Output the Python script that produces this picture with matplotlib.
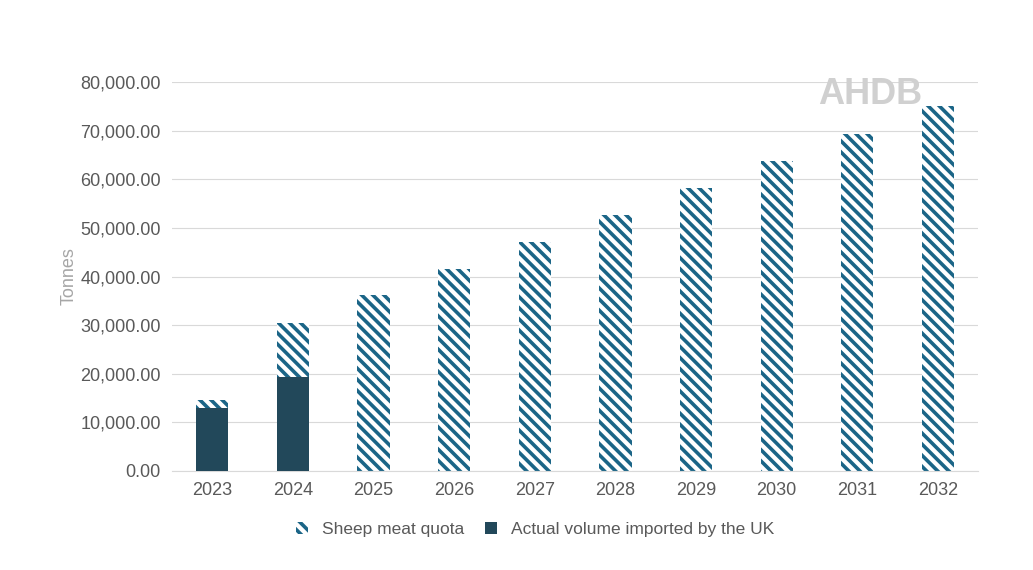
import matplotlib
matplotlib.use("Agg")
import matplotlib.pyplot as plt
from matplotlib.ticker import FuncFormatter

years = ["2023","2024","2025","2026","2027","2028","2029","2030","2031","2032"]
quota = [14600, 30500, 36100, 41600, 47100, 52700, 58200, 63800, 69400, 75000]
actual = [13000, 19300, None, None, None, None, None, None, None, None]

plt.rcParams['font.family'] = ['Liberation Sans', 'DejaVu Sans']
plt.rcParams['hatch.linewidth'] = 2.6
fig = plt.figure(figsize=(10.33, 5.7), dpi=100)
ax = fig.add_axes([0.1665, 0.1737, 0.7805, 0.6823])
x = list(range(len(years)))
hatch_col = "#1b6587"
ax.bar(x, quota, width=0.4, color="white", edgecolor=hatch_col, hatch="\\\\\\", linewidth=0,
       label="Sheep meat quota", zorder=2)
ax_x = [i for i, v in enumerate(actual) if v is not None]
ax_v = [v for v in actual if v is not None]
ax.bar(ax_x, ax_v, width=0.4, color="#22485a", label="Actual volume imported by the UK", zorder=3)
ax.set_ylim(0, 80000)
ax.set_xlim(-0.5, 9.5)
ax.set_yticks(range(0, 80001, 10000))
ax.yaxis.set_major_formatter(FuncFormatter(lambda v, p: f"{v:,.2f}"))
ax.set_xticks(x)
ax.set_xticklabels(years)
ax.grid(axis='y', color="#d9d9d9", linewidth=0.8, zorder=0)
for s in ax.spines.values():
    s.set_visible(False)
ax.spines['bottom'].set_visible(True)
ax.spines['bottom'].set_color("#d9d9d9")
ax.tick_params(length=0, labelsize=13, colors="#595959", pad=8)
ax.set_ylabel("Tonnes", fontsize=13, color="#a6a6a6", labelpad=2)
ax.legend(loc="upper center", bbox_to_anchor=(0.45, -0.09), ncol=2, frameon=False,
          fontsize=12.5, labelcolor="#595959", handlelength=0.7, handleheight=0.7, columnspacing=1.2)
fig.text(0.842, 0.835, "AHDB", fontsize=26, color="#d0d0d0", fontweight="bold", ha="center", va="center")
fig.savefig("out.png", dpi=100)
